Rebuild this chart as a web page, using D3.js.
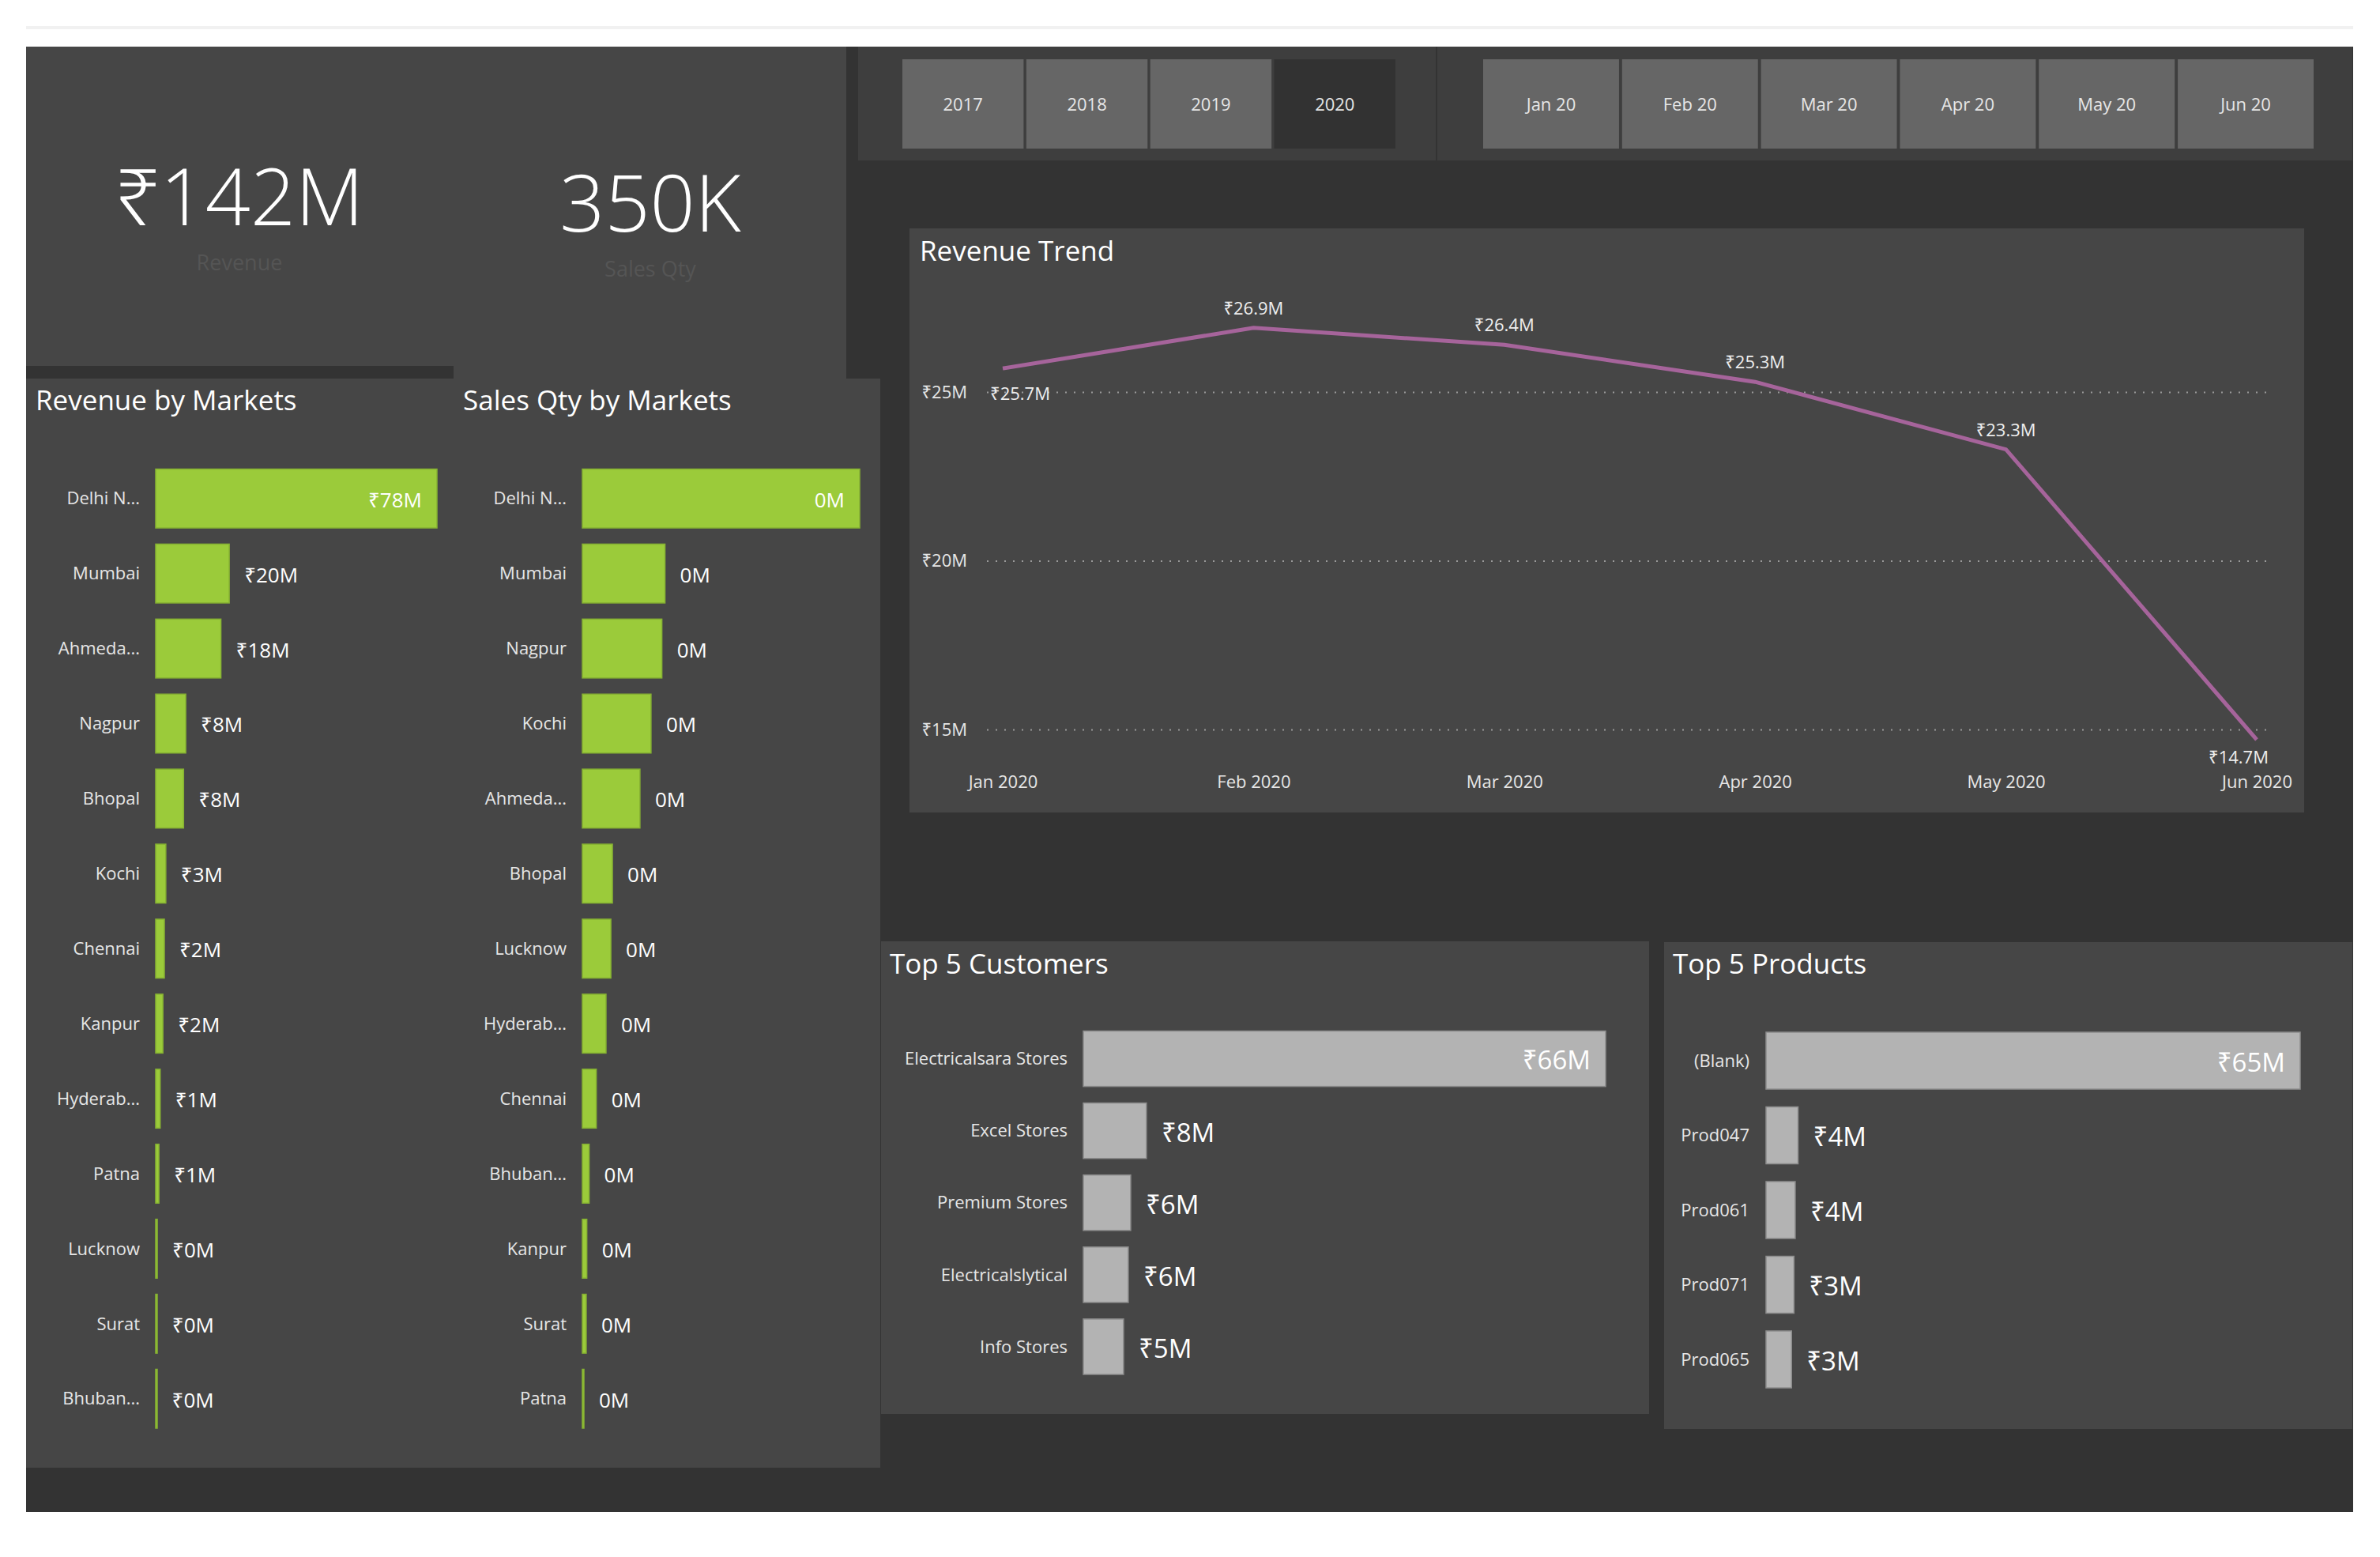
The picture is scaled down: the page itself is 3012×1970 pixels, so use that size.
<!DOCTYPE html>
<html>
<head>
<meta charset="utf-8">
<script src="https://cdn.jsdelivr.net/npm/d3@7"></script>
<style>
  body { margin: 0; background: #fff; }
  text { font-family: "Open Sans", "Noto Sans", sans-serif; }
</style>
</head>
<body>
<div id="chart"></div>
<script>
const dims = { width: 3012, height: 1970 };

// ---- data ----
const kpiRevenue = "₹142M";
const kpiQty = "350K";

const years = ["2017", "2018", "2019", "2020"];
const selectedYear = "2020";
const monthButtons = ["Jan 20", "Feb 20", "Mar 20", "Apr 20", "May 20", "Jun 20"];

const trendMonths = ["Jan 2020", "Feb 2020", "Mar 2020", "Apr 2020", "May 2020", "Jun 2020"];
const trendRevenue = [25.7e6, 26.9e6, 26.4e6, 25.3e6, 23.3e6, 14.7e6];
const trendTicks = [15e6, 20e6, 25e6];

const revMarkets = ["Delhi N...", "Mumbai", "Ahmeda...", "Nagpur", "Bhopal", "Kochi", "Chennai",
    "Kanpur", "Hyderab...", "Patna", "Lucknow", "Surat", "Bhuban..."];
const revValues = [77.6e6, 20.3e6, 18.0e6, 8.3e6, 7.7e6, 2.8e6, 2.4e6, 2.0e6, 1.25e6, 0.9e6, 0.45e6, 0.4e6, 0.35e6];

const qtyMarkets = ["Delhi N...", "Mumbai", "Nagpur", "Kochi", "Ahmeda...", "Bhopal", "Lucknow",
    "Hyderab...", "Chennai", "Bhuban...", "Kanpur", "Surat", "Patna"];
const qtyValues = [143000, 42600, 41000, 35400, 29700, 15500, 14700, 12200, 7200, 3500, 2300, 2000, 800];

const customers = ["Electricalsara Stores", "Excel Stores", "Premium Stores", "Electricalslytical", "Info Stores"];
const customerValues = [66.2e6, 8.0e6, 6.0e6, 5.7e6, 5.1e6];

const products = ["(Blank)", "Prod047", "Prod061", "Prod071", "Prod065"];
const productValues = [65e6, 3.9e6, 3.55e6, 3.4e6, 3.1e6];

const [panel, dark, green, grey, purple] = ["#464646", "#333333", "#9bcb3a", "#b3b3b3", "#a6649b"];

const svg = d3.select("#chart")
    .append("svg")
    .attr("width", dims.width)
    .attr("height", dims.height)
    .attr("viewBox", `0 0 ${dims.width} ${dims.height}`);

// ---- backgrounds ----
svg.append("rect").attr("x", 33).attr("y", 33).attr("width", 2945).attr("height", 4).style("fill", "#f1f1f1");
svg.append("rect").attr("x", 33).attr("y", 59).attr("width", 2945).attr("height", 1854).style("fill", dark);

function box(x, y, w, h, fill) {
    svg.append("rect").attr("x", x).attr("y", y).attr("width", w).attr("height", h).style("fill", fill || panel);
}
box(33, 59, 1038, 420);
box(33, 463, 541, 16, dark);
box(33, 479, 541, 1378);
box(574, 479, 540, 1378);
box(1086, 59, 731, 144, "#3e3e3e");
box(1819, 59, 1158, 144, "#3e3e3e");
box(1151, 289, 1765, 739);
box(1115, 1191, 972, 598);
box(2106, 1192, 871, 616);

function title(x, y, t) {
    svg.append("text").attr("x", x).attr("y", y).text(t)
        .style("font-size", "35px").style("fill", "#fff");
}

// ---- KPI cards ----
function kpi(cx, cy, value, label) {
    svg.append("text").attr("x", cx).attr("y", cy).attr("text-anchor", "middle")
        .text(value).style("font-size", "100px").style("font-weight", 300).style("fill", "#fff");
    svg.append("text").attr("x", cx).attr("y", cy + 57).attr("text-anchor", "middle")
        .text(label).style("font-size", "27px").style("fill", "#555");
}
kpi(303, 285, kpiRevenue, "Revenue");
kpi(823, 293, kpiQty, "Sales Qty");

// ---- slicers ----
function slicer(items, x0, x1, selected) {
    const xb = d3.scaleBand().domain(items).range([x0, x1]).paddingInner(0.022);
    const g = svg.append("g").selectAll().data(items).join("g");
    g.append("rect")
        .attr("x", d => xb(d)).attr("y", 75)
        .attr("width", xb.bandwidth()).attr("height", 113)
        .style("fill", d => d === selected ? "#323232" : "#666");
    g.append("text")
        .attr("x", d => xb(d) + xb.bandwidth() / 2).attr("y", 140)
        .attr("text-anchor", "middle").text(d => d)
        .style("font-size", "22px").style("fill", "#e6e6e6");
}
slicer(years, 1142, 1766, selectedYear);
slicer(monthButtons, 1877, 2928, null);

// ---- revenue trend ----
title(1164, 330, "Revenue Trend");
const tx = d3.scalePoint().domain(trendMonths).range([1269, 2856]);
const ty = d3.scaleLinear().domain([15e6, 25e6]).range([923, 496]);
const fmtM1 = v => "₹" + (v / 1e6).toFixed(1) + "M";

const yAxis = svg.append("g")
    .attr("transform", "translate(1249,0)")
    .call(d3.axisLeft(ty).tickValues(trendTicks).tickSize(-(2873 - 1249)).tickPadding(25)
        .tickFormat(d => "₹" + d / 1e6 + "M"));
yAxis.select(".domain").remove();
yAxis.selectAll("line").style("stroke", "#9a9a9a").style("stroke-width", 2).style("stroke-dasharray", "2,9");
yAxis.selectAll("text").style("font-size", "22px").style("fill", "#e6e6e6");

const xAxis = svg.append("g")
    .attr("transform", "translate(0,975)")
    .call(d3.axisBottom(tx).tickSize(0).tickPadding(6));
xAxis.select(".domain").remove();
xAxis.selectAll("text").style("font-size", "22px").style("fill", "#e6e6e6");

svg.append("path")
    .datum(trendRevenue)
    .attr("d", d3.line().x((d, i) => tx(trendMonths[i])).y(d => ty(d)))
    .style("fill", "none").style("stroke", purple).style("stroke-width", 5);

const last = trendRevenue.length - 1;
svg.append("g").selectAll().data(trendRevenue).join("text")
    .attr("x", (d, i) => tx(trendMonths[i]) + (i === 0 ? 22 : i === last ? -23 : 0))
    .attr("y", (d, i) => ty(d) + (i === 0 ? 40 : i === last ? 30 : -17))
    .attr("text-anchor", "middle")
    .text(fmtM1)
    .style("font-size", "22px").style("fill", "#eee");

// ---- horizontal bar charts ----
function hbars(cfg) {
    const y = d3.scaleBand().domain(cfg.labels).range(cfg.yRange).paddingInner(cfg.pad);
    const x = d3.scaleLinear().domain([0, d3.max(cfg.values)]).range(cfg.xRange);
    const rows = cfg.labels.map((l, i) => ({ label: l, value: cfg.values[i] }));
    const g = svg.append("g").selectAll().data(rows).join("g");
    g.append("rect")
        .attr("x", x(0)).attr("y", d => y(d.label))
        .attr("width", d => Math.max(2, x(d.value) - x(0))).attr("height", y.bandwidth())
        .style("fill", cfg.color).style("stroke", cfg.edge).style("stroke-width", 1.5);
    g.append("text")
        .attr("x", cfg.labelX).attr("y", d => y(d.label) + y.bandwidth() / 2)
        .attr("dy", "0.35em").attr("text-anchor", "end")
        .text(d => d.label)
        .style("font-size", "22px").style("fill", "#e6e6e6");
    g.append("text")
        .attr("x", (d, i) => i === 0 ? x(d.value) - 19 : x(d.value) + 19)
        .attr("y", d => y(d.label) + y.bandwidth() / 2)
        .attr("dy", "0.42em")
        .attr("text-anchor", (d, i) => i === 0 ? "end" : "start")
        .text(d => cfg.fmt(d.value))
        .style("font-size", cfg.valueSize).style("fill", "#fff");
}

const fmtRs = v => "₹" + Math.round(v / 1e6) + "M";
const fmtM = v => Math.round(v / 1e6) + "M";

title(45, 519, "Revenue by Markets");
hbars({ labels: revMarkets, values: revValues, yRange: [593.5, 1807], pad: 0.215,
    xRange: [197, 553], labelX: 177, color: green, edge: "#86b232", fmt: fmtRs, valueSize: "26px" });

title(586, 519, "Sales Qty by Markets");
hbars({ labels: qtyMarkets, values: qtyValues, yRange: [593.5, 1807], pad: 0.215,
    xRange: [737, 1088], labelX: 717, color: green, edge: "#86b232", fmt: fmtM, valueSize: "26px" });

title(1126, 1232, "Top 5 Customers");
hbars({ labels: customers, values: customerValues, yRange: [1304.5, 1739], pad: 0.23,
    xRange: [1371, 2032], labelX: 1351, color: grey, edge: "#8c8c8c", fmt: fmtRs, valueSize: "33px" });

title(2117, 1232, "Top 5 Products");
hbars({ labels: products, values: productValues, yRange: [1306, 1756], pad: 0.238,
    xRange: [2235, 2911], labelX: 2214, color: grey, edge: "#8c8c8c", fmt: fmtRs, valueSize: "33px" });
</script>
</body>
</html>
